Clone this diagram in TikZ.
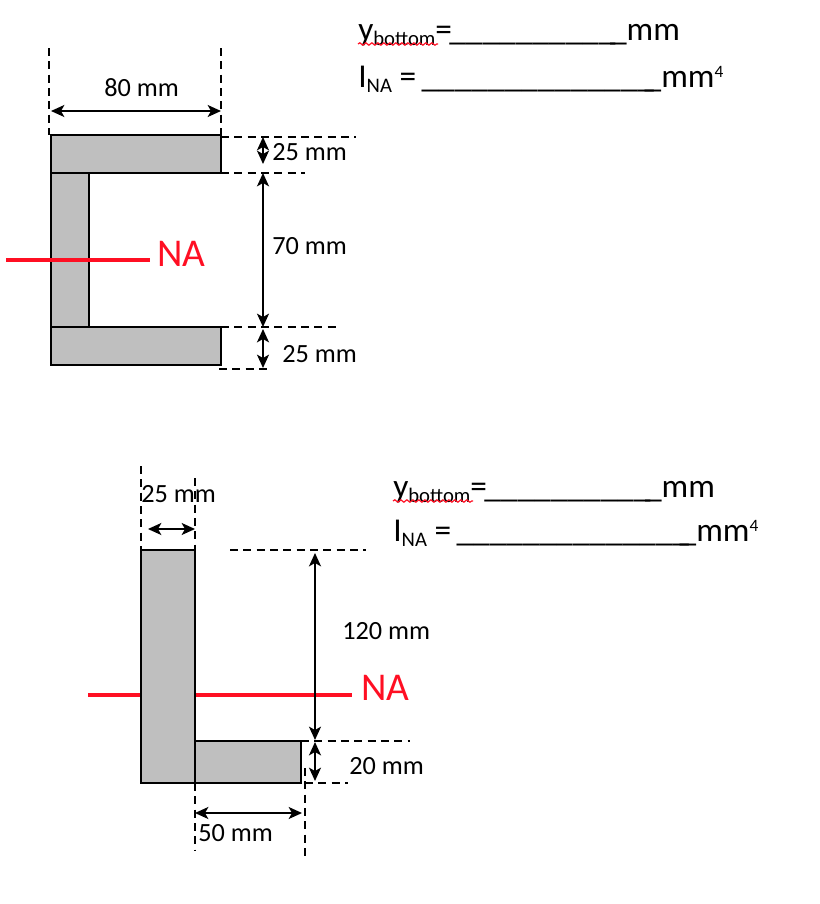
\documentclass[tikz,border=0pt]{standalone}
\usepackage{fontspec}
\setmainfont{Carlito}
\usepackage{xcolor}
\usetikzlibrary{arrows.meta,decorations.pathmorphing}
\definecolor{webgray}{HTML}{BFBFBF}
\definecolor{nared}{HTML}{FF0F23}
\newcommand{\lowtxt}[1]{\raisebox{-0.15em}{\fontsize{15.5}{16}\selectfont #1}}
\newcommand{\hightxt}[1]{\raisebox{0.3em}{\fontsize{13}{13}\selectfont #1}}
\newcommand{\blanks}[1]{\foreach \n in {1,...,#1}{\_}}

\begin{document}
\begin{tikzpicture}[x=0.75pt,y=-0.75pt,>={Stealth[length=10pt,width=9pt,inset=2.5pt]}]
  \tikzstyle{section} = [draw=black,fill=webgray,line width=1.5pt,inner sep=0pt,outer sep=0pt,anchor=north west]
  \tikzstyle{guide} = [draw=black,line width=1.2pt,dash pattern=on 6pt off 4pt]
  \tikzstyle{dim} = [<->,draw=black,line width=1.4pt]
  \tikzstyle{naline} = [draw=nared,line width=2.4pt]
  \tikzstyle{dimtext} = [font=\fontsize{19.7}{20}\selectfont,inner sep=0pt,anchor=base west]
  \tikzstyle{natext} = [font=\fontsize{29.5}{30}\selectfont,text=nared,inner sep=0pt,anchor=base west]
  \tikzstyle{eqtext} = [font=\fontsize{25}{25}\selectfont,inner sep=0pt,anchor=base west]
  \tikzstyle{spell} = [draw=nared,line width=0.9pt,decorate,decoration={snake,amplitude=0.9pt,segment length=4.5pt}]
  \useasboundingbox (0,0) rectangle (820,904);
  % Upper section.
  \node[section,minimum width=127.5pt,minimum height=28.5pt] (flangeT) at (51,135) {};
  \node[section,minimum width=28.5pt,minimum height=115.5pt] (web) at (51,173) {};
  \node[section,minimum width=127.5pt,minimum height=28.5pt] (flangeB) at (51,327) {};
  % Upper guides.
  \coordinate (g1a) at (49,48);   \coordinate (g1b) at (49,135);
  \coordinate (g2a) at (221,48);  \coordinate (g2b) at (221,135);
  \coordinate (g3a) at (221,137); \coordinate (g3b) at (356,137);
  \coordinate (g4a) at (221,173); \coordinate (g4b) at (305,173);
  \coordinate (g5a) at (221,327); \coordinate (g5b) at (338,327);
  \coordinate (g6a) at (219,369); \coordinate (g6b) at (270,369);
  \draw[guide] (g1a) -- (g1b);
  \draw[guide] (g2a) -- (g2b);
  \draw[guide] (g3a) -- (g3b);
  \draw[guide] (g4a) -- (g4b);
  \draw[guide] (g5a) -- (g5b);
  \draw[guide] (g6a) -- (g6b);
  % Upper dimensions.
  \coordinate (d1a) at (51,111);  \coordinate (d1b) at (221,111);
  \coordinate (d2a) at (263,137); \coordinate (d2b) at (263,164);
  \coordinate (d3a) at (263,173); \coordinate (d3b) at (263,327);
  \coordinate (d4a) at (263,329); \coordinate (d4b) at (263,368);
  \draw[dim] (d1a) -- (d1b);
  \draw[dim] (d2a) -- (d2b);
  \draw[dim] (d3a) -- (d3b);
  \draw[dim] (d4a) -- (d4b);
  \node[dimtext] (t80) at (104,96) {80 mm};
  \node[dimtext] (t25a) at (272,160) {25 mm};
  \node[dimtext] (t70) at (272,254) {70 mm};
  \node[dimtext] (t25b) at (282,362) {25 mm};
  % Upper neutral axis.
  \coordinate (na1a) at (6,260); \coordinate (na1b) at (150,260);
  \draw[naline] (na1a) -- (na1b);
  \node[natext] (na1) at (157,266) {NA};
  % Upper answers.
  \node[eqtext] (y1) at (358,40) {y\lowtxt{bottom}=\kern-2pt\blanks{10}\kern-4pt\_mm};
  \node[eqtext] (i1) at (358,87) {I\lowtxt{NA} = \kern-1.5pt\blanks{14}\kern-7pt\_mm\hightxt{4}};
  \coordinate (w1a) at (358,44); \coordinate (w1b) at (438,44);
  \draw[spell] (w1a) -- (w1b);
  % Lower section.
  \coordinate (na2a) at (88,695);  \coordinate (na2b) at (352,695);
  \draw[naline] (na2a) -- (na2b);
  \node[section,minimum width=40.5pt,minimum height=174.75pt] (stem) at (141,550) {};
  \node[section,minimum width=79.5pt,minimum height=31.5pt] (foot) at (195,741) {};
  \node[natext] (na2) at (361,700) {NA};
  % Lower guides.
  \coordinate (g7a) at (141,466);  \coordinate (g7b) at (141,550);
  \coordinate (g8a) at (195,478);  \coordinate (g8b) at (195,550);
  \coordinate (g9a) at (195,783);  \coordinate (g9b) at (195,850);
  \coordinate (g10a) at (305,768); \coordinate (g10b) at (305,856);
  \coordinate (g11a) at (230,550); \coordinate (g11b) at (366,550);
  \coordinate (g12a) at (301,741); \coordinate (g12b) at (410,741);
  \coordinate (g13a) at (305,783); \coordinate (g13b) at (348,783);
  \draw[guide] (g7a) -- (g7b);
  \draw[guide] (g8a) -- (g8b);
  \draw[guide] (g9a) -- (g9b);
  \draw[guide] (g10a) -- (g10b);
  \draw[guide] (g11a) -- (g11b);
  \draw[guide] (g12a) -- (g12b);
  \draw[guide] (g13a) -- (g13b);
  % Lower dimensions.
  \coordinate (d5a) at (148,529); \coordinate (d5b) at (195,529);
  \coordinate (d6a) at (315,553); \coordinate (d6b) at (315,740);
  \coordinate (d7a) at (315,742); \coordinate (d7b) at (315,781);
  \coordinate (d8a) at (195,813); \coordinate (d8b) at (302,813);
  \draw[dim] (d5a) -- (d5b);
  \draw[dim] (d6a) -- (d6b);
  \draw[dim] (d7a) -- (d7b);
  \draw[dim] (d8a) -- (d8b);
  \node[dimtext] (t25c) at (141,502) {25 mm};
  \node[dimtext] (t120) at (342,639) {120 mm};
  \node[dimtext] (t20) at (349,774) {20 mm};
  \node[dimtext] (t50) at (198,841) {50 mm};
  % Lower answers.
  \node[eqtext] (y2) at (393,497) {y\lowtxt{bottom}=\kern-2pt\blanks{10}\kern-4pt\_mm};
  \node[eqtext] (i2) at (393,541) {I\lowtxt{NA} = \kern-1.5pt\blanks{14}\kern-7pt\_mm\hightxt{4}};
  \coordinate (w2a) at (393,501); \coordinate (w2b) at (473,501);
  \draw[spell] (w2a) -- (w2b);
\end{tikzpicture}
\end{document}
